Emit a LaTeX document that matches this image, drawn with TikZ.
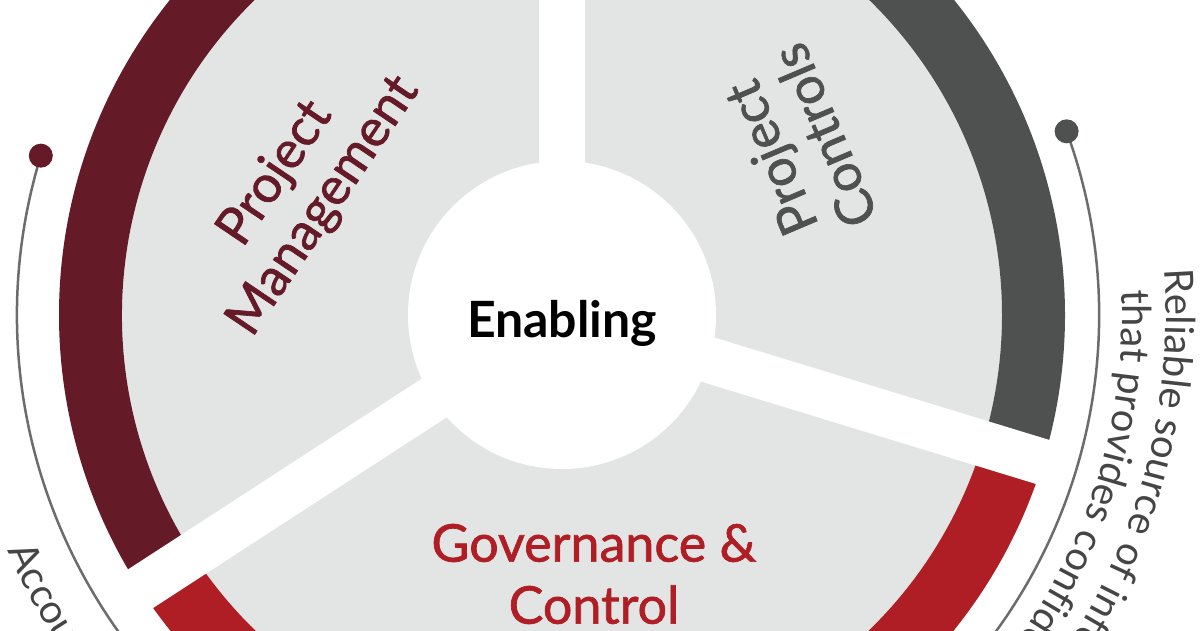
\documentclass[tikz,border=0pt]{standalone}
\usepackage{fontspec}
\setmainfont{Lato}
\newfontfamily\latomed[FakeBold=1.3]{Lato}
\usetikzlibrary{decorations.text}
\definecolor{dred}{HTML}{651A28}
\definecolor{dgrey}{HTML}{4F5050}
\definecolor{bred}{HTML}{B01E25}
\definecolor{lgrey}{HTML}{E3E5E4}
\definecolor{tgrey}{HTML}{454545}
\tikzset{
  gap/.style={white, line width=46pt},
  seglabel/.style={font=\latomed\fontsize{52}{58}\selectfont, align=center, inner sep=0},
  thinarc/.style={draw=gray!85!black, line width=2.5pt},
  dot/.style={circle, inner sep=0, minimum size=24pt},
}
\newcommand{\ringseg}[3]{% color, a1, a2
  \fill[#1] ([shift={(#2:503pt)}]C) arc[start angle=#2, end angle=#3, radius=503pt]
    -- ([shift={(#3:440pt)}]C) arc[start angle=#3, end angle=#2, radius=440pt] -- cycle;}
\begin{document}
\begin{tikzpicture}[x=1pt,y=1pt]
\useasboundingbox (0,0) rectangle (1200,630);
\clip (0,0) rectangle (1200,630);
\coordinate (C) at (562,315);
\fill[lgrey] (C) circle (440pt);
\ringseg{dgrey}{-17}{90}
\ringseg{dred}{90}{213}
\ringseg{bred}{213}{343}
\draw[gap] (C) -- ++(90:600pt);
\draw[gap] (C) -- ++(-17:600pt);
\draw[gap] (C) -- ++(213:600pt);
\node[circle, fill=white, minimum size=308pt, inner sep=0] (en) at (C) {};
\node[font=\bfseries\fontsize{50}{60}\selectfont, inner sep=0] (entext) at ([yshift=-8pt]en.center) {Enabling};
\node[seglabel, text=dred, rotate=56] (pm) at (300,440) {Project\\Management};
\node[seglabel, text=dgrey, rotate=113] (pc) at (797,483) {Project\\Controls};
\node[seglabel, text=bred, font=\latomed\fontsize{52}{62}\selectfont] (gc) at (594,56) {Governance \&\\Control};
% outer arcs with dots
\draw[thinarc] ([shift={(163:545pt)}]C) arc[start angle=163, end angle=245, radius=545pt];
\node[dot, fill=dred] (dotL) at ([shift={(163:545pt)}]C) {};
\draw[thinarc] ([shift={(20:537pt)}]C) arc[start angle=20, end angle=-70, radius=537pt];
\node[dot, fill=dgrey] (dotR) at ([shift={(20:537pt)}]C) {};
% curved texts
\path[decorate, decoration={text along path, text color=tgrey,
  text={|\fontsize{40}{40}\selectfont|Reliable source of information}}]
  ([shift={(4.3:604pt)}]C) arc[start angle=4.3, end angle=-80, radius=604pt];
\path[decorate, decoration={text along path, text color=tgrey,
  text={|\fontsize{40}{40}\selectfont|that provides confidence}}]
  ([shift={(2.5:560pt)}]C) arc[start angle=2.5, end angle=-80, radius=560pt];
\path[decorate, decoration={text along path, text color=tgrey,
  text={|\fontsize{40}{40}\selectfont|Accountability}}]
  ([shift={(203:602pt)}]C) arc[start angle=203, end angle=280, radius=602pt];
\end{tikzpicture}
\end{document}
